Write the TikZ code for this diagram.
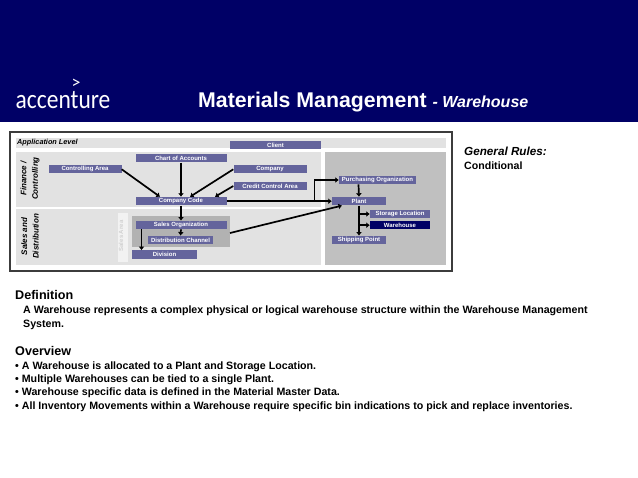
\documentclass[tikz,border=0pt]{standalone}
\usepackage{fontspec}
\setmainfont{Liberation Sans}
\newfontfamily\logofont{Carlito}
\usetikzlibrary{arrows.meta}
\definecolor{navyhead}{HTML}{000066}
\definecolor{boxblue}{HTML}{64649C}
\definecolor{bandgray}{HTML}{E2E2E2}
\definecolor{panelgray}{HTML}{C0C0C0}
\definecolor{salesgray}{HTML}{B2B2B2}
\definecolor{framegray}{HTML}{3C3C3C}
\tikzset{
  ent/.style={fill=boxblue,text=white,inner sep=0pt,font=\bfseries\fontsize{6}{7}\selectfont,minimum height=8.4pt},
  link/.style={line width=1.7pt,draw=black,-{Latex[length=3.5pt,width=6pt]}},
  side/.style={rotate=90,align=center,font=\bfseries\itshape\fontsize{8}{11.5}\selectfont,text=black,inner sep=0pt},
  bodytext/.style={anchor=base west,inner sep=0pt,font=\bfseries\fontsize{10.65}{12}\selectfont,text=black},
  headtext/.style={anchor=base west,inner sep=0pt,font=\bfseries\fontsize{12.6}{14}\selectfont,text=black},
}
\begin{document}
\begin{tikzpicture}[x=1pt,y=-1pt]
\useasboundingbox (0,0) rectangle (638,478);
\fill[navyhead] (0,0) rectangle (638,122);
% logo and title
\node[anchor=base west,inner sep=0pt,text=white,font=\logofont\fontsize{27}{27}\selectfont] (logo) at (15.5,109) {\scalebox{.87}[1]{accenture}};
\node[anchor=base,inner sep=0pt,text=white,font=\logofont\fontsize{18}{18}\selectfont] (logomark) at (76,88.5) {>};
\node[anchor=base west,inner sep=0pt,text=white] (title) at (198,107.5) {\fontsize{21.3}{22}\selectfont\bfseries Materials Management \fontsize{16}{20}\selectfont\itshape - Warehouse};
% frame and bands
\draw[framegray,line width=2pt,fill=white] (10,132.5) rectangle (452,271);
\fill[bandgray] (16,138) rectangle (446,148);
\fill[bandgray] (16,152) rectangle (321,207);
\fill[bandgray] (16,209) rectangle (321,265);
\fill[panelgray] (325,152) rectangle (446,265);
\fill[salesgray] (132,216) rectangle (230,247);
\fill[black!5] (118,213) rectangle (128,262);
\node[anchor=base west,inner sep=0pt,font=\bfseries\itshape\fontsize{7.3}{9}\selectfont] (applevel) at (17,145) {Application Level};
\node[side] (fin) at (30,178.5) {Finance /\\Controlling};
\node[side] (sales) at (30,236.5) {Sales and\\Distribution};
\node[rotate=90,inner sep=0pt,text=black!18,font=\bfseries\fontsize{6}{7}\selectfont] (salesarea) at (121,236) {Sales Area};
% entities
\node[ent,minimum width=91pt] (client) at (275.5,145.3) {Client};
\node[ent,minimum width=91pt] (chart) at (181,158.3) {Chart of Accounts};
\node[ent,minimum width=73pt] (ctrl) at (85,169.3) {Controlling Area};
\node[ent,minimum width=73pt] (company) at (270,169.3) {Company};
\node[ent,minimum width=73pt] (credit) at (270,186) {Credit Control Area};
\node[ent,minimum width=91pt] (cc) at (181,201.2) {Company Code};
\node[ent,minimum width=91pt] (so) at (181,225) {Sales Organization};
\node[ent,minimum width=65pt] (dc) at (180.5,240) {Distribution Channel};
\node[ent,minimum width=65pt] (div) at (164.5,254.5) {Division};
\node[ent,minimum width=77pt] (po) at (377.5,180) {Purchasing Organization};
\node[ent,minimum width=54pt] (plant) at (359,201.2) {Plant};
\node[ent,minimum width=60pt] (sl) at (400,214) {Storage Location};
\node[ent,minimum width=60pt,fill=navyhead] (wh) at (400,225.2) {Warehouse};
\node[ent,minimum width=54pt] (sp) at (359,240) {Shipping Point};
% connectors
\coordinate (salesedge) at (230,233);
\coordinate (plantbus) at (358.5,214);
\coordinate (plantbustwo) at (358.5,225.2);
\coordinate (ccjunction) at (314.5,201.2);
\coordinate (pocorner) at (314.5,180);
\draw[link] (ctrl.east) -- ([xshift=-21pt]cc.north);
\draw[link] (chart.south) -- (cc.north);
\draw[link] (company.west) -- ([xshift=9pt]cc.north);
\draw[link] (credit.west) -- ([xshift=34pt]cc.north);
\draw[link] (cc.south) -- (so.north);
\draw[link] (so.south) -- (dc.north);
\draw[link] ([xshift=-39.5pt]so.south) -- ([xshift=-23pt]div.north);
\draw[link] (cc.east) -- (plant.west);
\draw[link] (ccjunction) -- (pocorner) -- (po.west);
\draw[link] (salesedge) -- ([xshift=-17pt]plant.south);
\draw[link] ([xshift=-19pt]po.south) -- (plant.north);
\draw[link] (plant.south) -- (sp.north);
\draw[link] (plantbus) -- (sl.west);
\draw[link] (plantbustwo) -- (wh.west);
% text
\node[anchor=base west,inner sep=0pt,font=\bfseries\itshape\fontsize{11.7}{14}\selectfont] (rules) at (464,156) {General Rules:};
\node[anchor=base west,inner sep=0pt,font=\bfseries\fontsize{10.6}{12}\selectfont] (cond) at (464,169.5) {Conditional};
\node[headtext] (defh) at (15,299.5) {Definition};
\node[bodytext] (def1) at (23,313.5) {A Warehouse represents a complex physical or logical warehouse structure within the Warehouse Management};
\node[bodytext] (def2) at (23,327.5) {System.};
\node[headtext] (ovh) at (15,355.5) {Overview};
\node[bodytext] (o1) at (15,369.5) {• A Warehouse is allocated to a Plant and Storage Location.};
\node[bodytext] (o2) at (15,382.5) {• Multiple Warehouses can be tied to a single Plant.};
\node[bodytext] (o3) at (15,396) {• Warehouse specific data is defined in the Material Master Data.};
\node[bodytext] (o4) at (15,409.5) {• All Inventory Movements within a Warehouse require specific bin indications to pick and replace inventories.};
\end{tikzpicture}
\end{document}
